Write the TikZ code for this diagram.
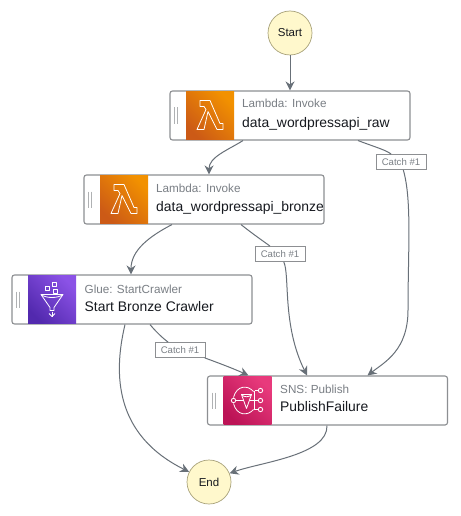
\documentclass[tikz,border=0pt]{standalone}
\usepackage{fontspec}
\setmainfont{Liberation Sans}
\usepackage{xcolor}
\usetikzlibrary{arrows.meta,positioning,calc}
\definecolor{aline}{HTML}{687078}
\definecolor{aborder}{HTML}{8D8F92}
\definecolor{agray}{HTML}{7A7F85}
\definecolor{atext}{HTML}{16191F}
\definecolor{acream}{HTML}{FFF8CC}
\definecolor{acircle}{HTML}{A8A27A}
\definecolor{lamlo}{HTML}{CC5A16}
\definecolor{lamhi}{HTML}{F29100}
\definecolor{gluelo}{HTML}{5229AE}
\definecolor{gluehi}{HTML}{8B52E6}
\definecolor{snslo}{HTML}{BC1356}
\definecolor{snshi}{HTML}{E83A7C}
\tikzset{
  flow/.style={-{Stealth[length=9pt,width=9pt]},aline,line width=1pt},
  plain/.style={aline,line width=1pt},
  terminal/.style={circle,draw=acircle,fill=acream,line width=0.7pt,minimum size=44pt,inner sep=0pt,text=atext,font=\fontsize{11.5}{13}\selectfont},
  taskbox/.style={draw=aborder,fill=white,rounded corners=2.5pt,line width=1.1pt,minimum width=240pt,minimum height=49pt,inner sep=0pt},
  iconbox/.style={minimum size=48pt,inner sep=0pt},
  kindtext/.style={anchor=base west,inner sep=0pt,text=agray,font=\fontsize{11.7}{13}\selectfont},
  nametext/.style={anchor=base west,inner sep=0pt,text=atext,font=\fontsize{13.9}{16}\selectfont},
  catchbox/.style={draw=aborder,fill=white,line width=0.8pt,inner sep=0pt,minimum width=50pt,minimum height=15pt,text=agray,font=\fontsize{9.6}{11}\selectfont},
  grip/.style={aborder!70,line width=0.7pt},
  glyph/.style={white,line width=0.8pt,line join=round},
  lambdaicon/.pic={
    \draw[glyph] (-10,-15) -- (0,-15) -- (10,8) -- (13,8) -- (13,14) -- (7,14) -- (-2,-4) -- (-6,14) -- (-13,14) -- (-4,-6) -- (-6,-9) -- (-10,-9) -- cycle;
  },
  glueicon/.pic={
    \draw[glyph] (-11,-5) -- (11,-5) -- (2,8) -- (2,11) -- (-2,11) -- (-2,8) -- cycle;
    \draw[glyph] (-11,-5) .. controls (-6,-1) and (6,-1) .. (11,-5);
    \draw[glyph] (-6.5,-13) rectangle (-2.5,-9);
    \draw[glyph] (0.5,-17) rectangle (4.5,-13);
    \draw[glyph] (1,-10) rectangle (5,-6);
    \draw[glyph] (-3,14) -- (0,17) -- (3,14);
    \draw[glyph] (0,12) -- (0,17);
  },
  snsicon/.pic={
    \draw[glyph] (6,-9) .. controls (0,-16) and (-11,-15) .. (-14,-3);
    \draw[glyph] (-14,3) .. controls (-11,15) and (0,16) .. (6,9);
    \draw[glyph] (-14,0) circle (2.2);
    \draw[glyph] (-6,-6) -- (4,-6) -- (-1,8) -- cycle;
    \draw[glyph] (-6,-6) .. controls (-4,-3) and (2,-3) .. (4,-6);
    \draw[glyph] (-12,0) -- (-4,0);
    \draw[glyph] (2,0) -- (11,0);
    \draw[glyph] (7,-10) -- (7,9);
    \draw[glyph] (7,-10) -- (11,-10);
    \draw[glyph] (7,9) -- (11,9);
    \foreach \yy in {-10,0,9} \draw[glyph] (13,\yy) circle (2.2);
  },
}
\begin{document}
\begin{tikzpicture}[x=1pt,y=-1pt]
  \useasboundingbox (0,0) rectangle (460,516);
  \fill[white] (0,0) rectangle (460,516);

  % Start and End
  \node[terminal] (start) at (290,33) {Start};
  \node[terminal] (end) at (209,482) {End};

  % Tasks
  \node[taskbox] (raw) at (290,115.5) {};
  \node[taskbox] (bronze) at (204,199.5) {};
  \node[taskbox] (crawler) at (132,299.5) {};
  \node[taskbox] (publish) at (327.5,400.5) {};

  % Icons
  \node[iconbox,left color=lamlo,right color=lamhi,shading angle=135] (rawicon) at (210,115.5) {};
  \node[iconbox,left color=lamlo,right color=lamhi,shading angle=135] (bronzeicon) at (124,199.5) {};
  \node[iconbox,left color=gluelo,right color=gluehi,shading angle=135] (crawlericon) at (52,299.5) {};
  \node[iconbox,left color=snslo,right color=snshi,shading angle=135] (publishicon) at (247.5,400.5) {};
  \pic at (rawicon.center) {lambdaicon};
  \pic at (bronzeicon.center) {lambdaicon};
  \pic at (crawlericon.center) {glueicon};
  \pic at (publishicon.center) {snsicon};

  % Grips
  \foreach \boxname in {raw,bronze,crawler,publish} {
    \draw[grip] ([xshift=5pt,yshift=8pt]\boxname.west) -- ([xshift=5pt,yshift=-8pt]\boxname.west);
    \draw[grip] ([xshift=8pt,yshift=8pt]\boxname.west) -- ([xshift=8pt,yshift=-8pt]\boxname.west);
  }

  % Labels
  \node[kindtext] (rawkind) at (242,108) {Lambda: Invoke};
  \node[nametext] (rawname) at (242,127) {data\_wordpressapi\_raw};
  \node[kindtext] (bronzekind) at (156,192) {Lambda: Invoke};
  \node[nametext] (bronzename) at (156,211) {data\_wordpressapi\_bronze};
  \node[kindtext] (crawlerkind) at (84.5,293) {Glue: StartCrawler};
  \node[nametext] (crawlername) at (84.5,311) {Start Bronze Crawler};
  \node[kindtext] (publishkind) at (280,393) {SNS: Publish};
  \node[nametext] (publishname) at (280,411.5) {PublishFailure};

  % Catch labels
  \node[catchbox] (rawcatch) at (401,162) {Catch \#1};
  \node[catchbox] (bronzecatch) at (280,254) {Catch \#1};
  \node[catchbox] (crawlercatch) at (180,350) {Catch \#1};

  % Normal flow
  \draw[flow] (start) -- (raw.north);
  \draw[flow] ([xshift=-47pt]raw.south) .. controls (228,150) and (209,157) .. ([xshift=5pt]bronze.north);
  \draw[flow] ([xshift=-32pt]bronze.south) .. controls (150,236) and (131,250) .. ([xshift=-1pt]crawler.north);
  \draw[flow] ([xshift=-7pt]crawler.south) .. controls (113,375) and (115,435) .. (end.153);
  \draw[flow] ([xshift=-0.5pt]publish.south) .. controls (328,455) and (262,462) .. (end.23);

  % Catch flow
  \draw[plain] ([xshift=68pt]raw.south) .. controls (375,147) and (386,150) .. (rawcatch);
  \draw[flow] (rawcatch) .. controls (412,200) and (408,250) .. (408,310) .. controls (408,350) and (385,362) .. ([xshift=40pt]publish.north);
  \draw[plain] ([xshift=37pt]bronze.south) .. controls (254,235) and (266,243) .. (bronzecatch);
  \draw[flow] (bronzecatch) .. controls (290,275) and (282,325) .. ([xshift=-20.5pt]publish.north);
  \draw[plain] ([xshift=18pt]crawler.south) .. controls (157,333) and (165,340) .. (crawlercatch);
  \draw[flow] (crawlercatch) .. controls (205,358) and (230,367) .. ([xshift=-79pt]publish.north);
\end{tikzpicture}
\end{document}
